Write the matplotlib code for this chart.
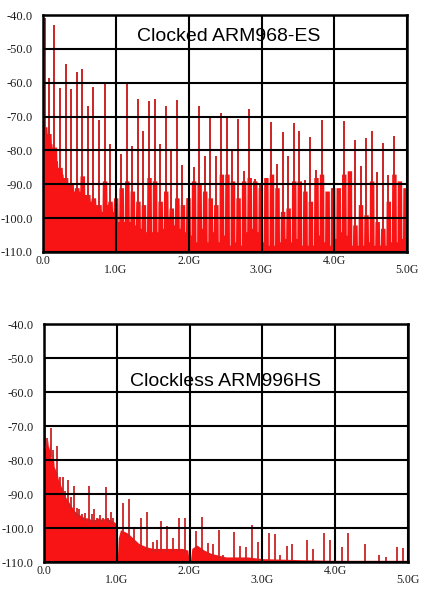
import matplotlib

matplotlib.use("Agg")

import matplotlib.pyplot as plt
import numpy as np


FILL = "#F81414"
SPIKE = "#CC2424"
INK = "#1E1E1E"

# --- clocked ARM968-ES: harmonics of the clock (GHz) ---
TOP_FREQ = [
    0.020, 0.077, 0.153, 0.230, 0.306, 0.383, 0.459, 0.536, 0.612, 0.689, 0.765, 0.842, 0.918, 0.995,
    1.071, 1.148, 1.224, 1.301, 1.377, 1.454, 1.530, 1.607, 1.683, 1.760, 1.836, 1.913, 1.989,
    2.066, 2.142, 2.219, 2.295, 2.372, 2.448, 2.525, 2.601, 2.678, 2.754, 2.831, 2.907, 2.984,
    3.060, 3.137, 3.213, 3.290, 3.366, 3.443, 3.519, 3.596, 3.672, 3.749, 3.825, 3.902, 3.978,
    4.055, 4.131, 4.208, 4.284, 4.361, 4.437, 4.514, 4.590, 4.667, 4.743, 4.820, 4.896, 4.973,
]
TOP_PEAK = [
    -41.0, -58.6, -43.0, -61.6, -54.4, -62.0, -56.8, -55.8, -67.0, -61.3, -71.1, -60.3, -78.2, -92.5,
    -81.0, -59.8, -78.7, -64.9, -74.4, -65.5, -64.7, -78.2, -67.0, -80.3, -65.2, -84.2, -94.0,
    -85.0, -67.0, -81.7, -69.9, -81.6, -68.8, -70.0, -80.0, -70.8, -86.0, -67.9, -88.5, -90.0,
    -89.0, -71.5, -84.0, -74.7, -81.6, -72.0, -74.4, -88.7, -76.0, -85.8, -70.9, -92.7, -91.0,
    -93.0, -71.4, -86.8, -77.0, -84.5, -76.4, -74.4, -86.5, -77.7, -87.3, -75.8, -91.0, -92.7,
]
TOP_SHOULDER = [
    -73, -75, -79, -85, -88, -90, -91, -87.5, -93, -94, -96, -89, -95, -94,
    -91, -89, -92, -95, -96, -88, -89, -95, -92, -97, -94, -96, -94,
    -89, -90, -92, -94, -96, -87, -87, -89, -94, -89, -88, -89, -91,
    -88, -87, -91, -98, -97, -89, -89, -92, -95, -88, -87, -92, -91,
    -91, -87, -86, -102, -96, -99, -89, -101, -103, -95, -87, -89, -91,
]
TOP_NOTCH = [
    -75, -78, -83, -87, -90, -92, -92, -93, -95, -96, -98, -96, -98, -101,
    -101, -101, -102, -103, -104, -104, -104, -103, -100, -102, -103, -104, -105,
    -107, -103, -107, -104, -107, -105, -108, -107, -108, -104, -103, -104, -107,
    -108, -108, -107, -106, -107, -106, -108, -108, -108, -105, -107, -108, -106,
    -104, -105, -108, -108, -108, -107, -108, -108, -108, -107, -107, -106, -108,
]

# --- clockless ARM996HS ---
BOT_FLOOR_F = [
    0.0, 0.01, 0.02, 0.035, 0.05, 0.065, 0.08, 0.095, 0.11, 0.125, 0.14, 0.16, 0.18, 0.2,
    0.22, 0.24, 0.26, 0.28, 0.3, 0.33, 0.36, 0.39, 0.42, 0.45, 0.48, 0.52, 0.56, 0.6,
    0.65, 0.7, 0.75, 0.8, 0.85, 0.9, 0.95, 0.985, 0.995, 1.005, 1.02, 1.05, 1.1, 1.15,
    1.2, 1.25, 1.3, 1.35, 1.4, 1.5, 1.6, 1.7, 1.8, 1.9, 1.975, 1.995, 2.01, 2.03,
    2.1, 2.2, 2.3, 2.5, 2.8, 3.0, 3.5, 4.0, 5.0,
]
BOT_FLOOR_DB = [
    -76, -77, -75, -76, -74, -77, -75, -79, -80, -78, -82, -83, -84, -86,
    -87, -88, -89, -90, -91, -92, -93, -94, -95, -95.5, -96, -96.5, -97, -97,
    -97.5, -97.5, -97, -97.5, -97, -97.5, -98, -98.5, -110, -110, -103, -100.5, -101, -101.5,
    -102.5, -103.5, -104.5, -105, -105.5, -106, -106, -106, -106, -106, -106.5, -110, -110, -106,
    -105, -106.5, -107.5, -108.5, -108.5, -109, -109.3, -109.5, -109.5,
]
BOT_SPIKE_F = [
    0.02, 0.04, 0.092, 0.13, 0.174, 0.215, 0.256, 0.295, 0.334, 0.37, 0.412, 0.45, 0.485,
    0.52, 0.56, 0.623, 0.655, 0.687, 0.73, 0.769, 0.81, 0.852, 0.885, 0.92, 0.95,
    1.081, 1.165, 1.24, 1.33, 1.415, 1.5, 1.55, 1.607, 1.685, 1.776, 1.854, 1.937,
    2.084, 2.175, 2.248, 2.326, 2.408, 2.463, 2.61, 2.692, 2.77, 2.853, 2.935,
    3.091, 3.173, 3.242, 3.334, 3.41, 3.609, 3.691, 3.846, 3.929,
    4.089, 4.172, 4.409, 4.606, 4.694, 4.853, 4.927,
]
BOT_SPIKE_DB = [
    -50.1, -73.5, -70.7, -77.0, -76.0, -85.0, -85.0, -89.0, -86.0, -91.0, -87.5, -94.0, -94.5,
    -96.0, -95.5, -87.6, -96.0, -94.4, -97.0, -96.3, -97.0, -88.0, -97.0, -95.3, -97.0,
    -92.6, -91.5, -100.0, -97.0, -95.3, -104.0, -103.5, -97.9, -99.3, -102.8, -97.0, -97.0,
    -100.9, -96.7, -104.5, -104.7, -100.6, -108.0, -101.3, -105.4, -105.5, -99.1, -104.0,
    -101.6, -101.8, -108.0, -105.3, -104.6, -103.5, -106.2, -101.6, -103.5,
    -105.5, -101.6, -104.7, -107.8, -108.5, -105.5, -105.8,
]

Y_TICKS = [-40, -50, -60, -70, -80, -90, -100, -110]
Y_LABELS = ["-40.0", "-50.0", "-60.0", "-70.0", "-80.0", "-90.0", "-100.0", "-110.0"]
X_HIGH = [0, 2, 4]
X_HIGH_LABELS = ["0.0", "2.0G", "4.0G"]
X_LOW = [1, 3, 5]
X_LOW_LABELS = ["1.0G", "3.0G", "5.0G"]

TITLES = ["Clocked ARM968-ES", "Clockless ARM996HS"]


def harmonic_floor(freqs, shoulder, notch):
    f = np.asarray(freqs)
    d = f[2] - f[1]
    xs, ys = [0.0], [shoulder[0]]
    for i in range(len(f)):
        xs += [f[i] - 0.4 * d, f[i] + 0.4 * d, f[i] + 0.45 * d, f[i] + 0.55 * d]
        ys += [shoulder[i], shoulder[i], notch[i], notch[i]]
    return np.array(xs), np.array(ys)


def style(ax, title, tx, ty):
    ax.set_xlim(0, 5)
    ax.set_ylim(-110, -40)
    ax.set_yticks(Y_TICKS, Y_LABELS)
    ax.set_xticks(X_HIGH, X_HIGH_LABELS)
    ax.set_xticks(X_LOW, X_LOW_LABELS, minor=True)
    ax.set_axisbelow(False)
    ax.grid(True, which="both", color="black", linewidth=1.5)
    ax.tick_params(which="both", length=0, labelcolor=INK)
    ax.tick_params(axis="y", pad=7.5, labelsize=9)
    ax.tick_params(axis="x", which="major", pad=2.0, labelsize=8.5)
    ax.tick_params(axis="x", which="minor", pad=8.5, labelsize=8.5)
    for lab in ax.get_xticklabels(which="both") + ax.get_yticklabels():
        lab.set_fontfamily("Liberation Serif")
    for s in ax.spines.values():
        s.set_linewidth(1.8)
        s.set_color("black")
        s.set_zorder(4)
    ax.text(tx, ty, title, transform=ax.transAxes, ha="center", va="baseline",
            fontsize=14, family="Liberation Sans", color="black", zorder=5)


fig = plt.figure(figsize=(4.26, 5.89), dpi=100)
ax1 = fig.add_axes([0.1016, 0.5722, 0.8538, 0.4023])
ax2 = fig.add_axes([0.1033, 0.0458, 0.8545, 0.4041])

xs, ys = harmonic_floor(TOP_FREQ, TOP_SHOULDER, TOP_NOTCH)
ax1.fill_between(xs, ys, -110, color=FILL, linewidth=0, zorder=1)
ax1.vlines(TOP_FREQ, np.array(TOP_SHOULDER) - 1, TOP_PEAK, color=SPIKE, linewidth=1.4, zorder=2)
style(ax1, TITLES[0], 0.511, 0.892)

ax2.fill_between(BOT_FLOOR_F, BOT_FLOOR_DB, -110, color=FILL, linewidth=0, zorder=1)
bot_base = np.interp(BOT_SPIKE_F, BOT_FLOOR_F, BOT_FLOOR_DB) - 1
ax2.vlines(BOT_SPIKE_F, np.minimum(bot_base, BOT_SPIKE_DB), BOT_SPIKE_DB,
           color=SPIKE, linewidth=1.3, zorder=2)
style(ax2, TITLES[1], 0.498, 0.740)

fig.savefig("out.png", dpi=100)
